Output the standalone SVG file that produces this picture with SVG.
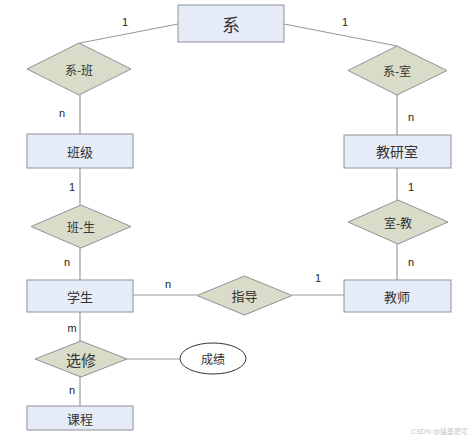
<svg xmlns="http://www.w3.org/2000/svg" width="474" height="437" viewBox="0 0 474 437">
<style>
.ent{fill:#e6ecf7;stroke:#8e9196;stroke-width:1}
.rel{fill:#d9dcc9;stroke:#8e9196;stroke-width:1}
.attr{fill:#ffffff;stroke:#333333;stroke-width:1}
.ln{stroke:#9a9a9a;stroke-width:1.2;fill:none}
.t{font-family:"Noto Sans CJK SC","Noto Sans CJK TC",sans-serif;fill:#333333;text-anchor:middle;dominant-baseline:central}
.c{font-family:"Liberation Sans",Arial,sans-serif;font-size:11px;fill:#222222;text-anchor:middle;dominant-baseline:central}
</style>
<rect width="474" height="437" fill="#ffffff"/>
<g id="connectors">
<line class="ln" x1="178" y1="24" x2="80" y2="43"/>
<line class="ln" x1="284" y1="24" x2="397" y2="46"/>
<line class="ln" x1="80" y1="95" x2="80" y2="134"/>
<line class="ln" x1="397" y1="95" x2="397" y2="135"/>
<line class="ln" x1="80" y1="168" x2="80" y2="205"/>
<line class="ln" x1="397" y1="168" x2="397" y2="200"/>
<line class="ln" x1="80" y1="248" x2="80" y2="280"/>
<line class="ln" x1="397" y1="244" x2="397" y2="280"/>
<line class="ln" x1="133" y1="295" x2="197" y2="295"/>
<line class="ln" x1="292" y1="295" x2="344" y2="295"/>
<line class="ln" x1="80" y1="312" x2="80" y2="341"/>
<line class="ln" x1="127" y1="359" x2="180" y2="359"/>
<line class="ln" x1="80" y1="377" x2="80" y2="406"/>
</g>
<g id="cardinalities">
<text class="c" x="125" y="22">1</text>
<text class="c" x="345" y="22">1</text>
<text class="c" x="62" y="113">n</text>
<text class="c" x="411" y="117">n</text>
<text class="c" x="72" y="187">1</text>
<text class="c" x="411" y="187">1</text>
<text class="c" x="67" y="262">n</text>
<text class="c" x="411" y="262">n</text>
<text class="c" x="168" y="284">n</text>
<text class="c" x="318" y="278">1</text>
<text class="c" x="72" y="328">m</text>
<text class="c" x="72" y="390">n</text>
</g>
<g id="xi"><rect class="ent" x="178" y="5" width="106" height="37"/><text class="t" x="231" y="24" font-size="18">系</text></g>
<g id="xi-ban"><polygon class="rel" points="79,43 131,69 79,95 27,69"/><text class="t" x="79" y="69" font-size="12">系-班</text></g>
<g id="xi-shi"><polygon class="rel" points="397,46 447,70.5 397,95 348,70.5"/><text class="t" x="397" y="70.5" font-size="12">系-室</text></g>
<g id="banji"><rect class="ent" x="27" y="134" width="106" height="34"/><text class="t" x="80" y="151" font-size="13">班级</text></g>
<g id="jiaoyanshi"><rect class="ent" x="344" y="135" width="107" height="33"/><text class="t" x="397" y="151" font-size="14">教研室</text></g>
<g id="ban-sheng"><polygon class="rel" points="81,205 131,226.5 81,248 31,226.5"/><text class="t" x="81" y="226.5" font-size="12">班-生</text></g>
<g id="shi-jiao"><polygon class="rel" points="398,200 448,222 398,244 348,222"/><text class="t" x="398" y="222" font-size="12">室-教</text></g>
<g id="xuesheng"><rect class="ent" x="27" y="280" width="106" height="32"/><text class="t" x="80" y="296" font-size="13">学生</text></g>
<g id="zhidao"><polygon class="rel" points="244.5,276 292,295.5 244.5,315 197,295.5"/><text class="t" x="244.5" y="295.5" font-size="13">指导</text></g>
<g id="jiaoshi"><rect class="ent" x="344" y="280" width="107" height="32"/><text class="t" x="397" y="296" font-size="13">教师</text></g>
<g id="xuanxiu"><polygon class="rel" points="81,341 127,359 81,377 35,359"/><text class="t" x="81" y="359" font-size="15">选修</text></g>
<g id="chengji"><ellipse class="attr" cx="213" cy="358.5" rx="33" ry="15.5"/><text class="t" x="213" y="358.5" font-size="12">成绩</text></g>
<g id="kecheng"><rect class="ent" x="27" y="406" width="106" height="24"/><text class="t" x="80" y="418" font-size="13">课程</text></g>
<text x="468" y="431" font-family="'Liberation Sans','Noto Sans CJK SC',sans-serif" font-size="7" fill="#c8c8c8" text-anchor="end" dominant-baseline="central">CSDN @猛基肥宅</text>
</svg>
